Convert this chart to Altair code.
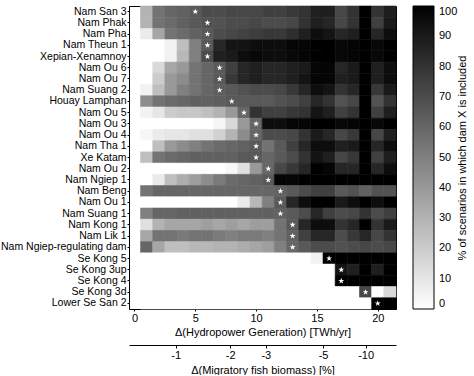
import math
import altair as alt
import pandas as pd

dams = ["Nam San 3", "Nam Phak", "Nam Pha", "Nam Theun 1", "Xepian-Xenamnoy",
        "Nam Ou 6", "Nam Ou 7", "Nam Suang 2", "Houay Lamphan", "Nam Ou 5",
        "Nam Ou 3", "Nam Ou 4", "Nam Tha 1", "Xe Katam", "Nam Ou 2",
        "Nam Ngiep 1", "Nam Beng", "Nam Ou 1", "Nam Suang 1", "Nam Kong 1",
        "Nam Lik 1", "Nam Ngiep-regulating dam", "Se Kong 5", "Se Kong 3up",
        "Se Kong 4", "Se Kong 3d", "Lower Se San 2"]

hydro_steps = list(range(1, 22))
star_step = [5, 6, 6, 6, 6, 7, 7, 7, 8, 9, 10, 10, 10, 10, 11, 11, 12, 12, 12,
             13, 13, 13, 16, 17, 17, 19, 20]

# % of scenarios in which dam is included, per hydropower step (1..21)
row00 = [30, 55, 60, 62, 65, 70, 70, 72, 72, 72, 75, 75, 78, 80, 88, 88, 72, 80, 100, 80, 88]
row01 = [30, 55, 58, 62, 65, 68, 68, 70, 70, 72, 70, 70, 72, 80, 88, 85, 72, 80, 100, 75, 90]
row02 = [8, 35, 55, 58, 62, 65, 70, 72, 74, 76, 78, 78, 82, 88, 95, 92, 85, 88, 100, 85, 95]
row03 = [0, 0, 5, 25, 50, 65, 85, 92, 92, 95, 95, 95, 98, 98, 100, 100, 97, 98, 100, 97, 100]
row04 = [0, 0, 5, 28, 50, 70, 88, 90, 95, 97, 95, 95, 97, 98, 100, 100, 97, 98, 100, 97, 100]
row05 = [0, 15, 35, 40, 55, 60, 65, 75, 85, 88, 85, 85, 88, 90, 98, 98, 85, 90, 100, 88, 95]
row06 = [0, 20, 40, 45, 55, 60, 65, 78, 85, 88, 85, 85, 88, 92, 98, 98, 88, 90, 100, 88, 95]
row07 = [5, 25, 40, 50, 55, 60, 63, 65, 68, 70, 70, 72, 78, 85, 95, 92, 80, 85, 100, 78, 90]
row08 = [45, 55, 58, 60, 62, 62, 63, 65, 65, 65, 65, 68, 70, 75, 85, 80, 68, 72, 100, 68, 80]
row09 = [5, 10, 20, 22, 22, 25, 30, 40, 60, 80, 75, 75, 78, 80, 92, 88, 75, 80, 100, 75, 88]
row10 = [0, 0, 0, 0, 0, 0, 3, 15, 40, 60, 95, 95, 98, 98, 100, 100, 97, 98, 100, 97, 100]
row11 = [3, 8, 10, 10, 12, 12, 18, 30, 45, 60, 70, 70, 72, 80, 90, 85, 72, 78, 100, 72, 88]
row12 = [0, 25, 40, 45, 50, 55, 58, 60, 62, 65, 55, 65, 75, 85, 95, 95, 88, 90, 100, 85, 95]
row13 = [25, 55, 58, 60, 62, 62, 62, 62, 65, 65, 60, 65, 70, 80, 92, 88, 72, 78, 100, 75, 88]
row14 = [0, 0, 0, 0, 0, 0, 0, 3, 12, 40, 60, 72, 78, 85, 100, 98, 85, 85, 100, 85, 95]
row15 = [0, 8, 25, 32, 38, 45, 52, 58, 60, 62, 65, 98, 98, 100, 100, 100, 100, 100, 100, 100, 100]
row16 = [55, 60, 60, 60, 60, 60, 60, 60, 60, 60, 60, 62, 65, 70, 75, 75, 65, 68, 62, 68, 68]
row17 = [0, 0, 0, 0, 0, 0, 0, 0, 8, 28, 50, 65, 85, 95, 100, 100, 90, 95, 100, 95, 100]
row18 = [50, 60, 60, 62, 62, 62, 62, 62, 62, 62, 62, 62, 65, 70, 85, 75, 70, 72, 80, 70, 75]
row19 = [12, 30, 35, 35, 35, 38, 35, 38, 35, 38, 38, 55, 65, 85, 95, 95, 80, 85, 100, 80, 90]
row20 = [35, 55, 55, 52, 55, 55, 52, 50, 52, 52, 50, 55, 62, 75, 85, 85, 70, 78, 85, 72, 80]
row21 = [60, 35, 25, 25, 28, 28, 30, 30, 32, 35, 38, 50, 60, 65, 70, 70, 68, 70, 72, 70, 72]
row22 = [0, 0, 0, 0, 0, 0, 0, 0, 0, 0, 0, 0, 0, 0, 5, 100, 100, 100, 100, 100, 100]
row23 = [0, 0, 0, 0, 0, 0, 0, 0, 0, 0, 0, 0, 0, 0, 0, 0, 92, 88, 100, 88, 100]
row24 = [0, 0, 0, 0, 0, 0, 0, 0, 0, 0, 0, 0, 0, 0, 0, 0, 100, 100, 100, 100, 100]
row25 = [0, 0, 0, 0, 0, 0, 0, 0, 0, 0, 0, 0, 0, 0, 0, 0, 0, 0, 72, 0, 15]
row26 = [0, 0, 0, 0, 0, 0, 0, 0, 0, 0, 0, 0, 0, 0, 0, 0, 0, 0, 0, 100, 100]

rows = [row00, row01, row02, row03, row04, row05, row06, row07, row08, row09,
        row10, row11, row12, row13, row14, row15, row16, row17, row18, row19,
        row20, row21, row22, row23, row24, row25, row26]

hydro_ticks = [0, 5, 10, 15, 20]
fish_pos = [3.39, 7.87, 10.8, 15.5, 19.0]
fish_labels = ["-1", "-2", "-3", "-5", "-10"]
cb_ticks = list(range(0, 101, 10))

records = []
for dam, vals in zip(dams, rows):
    for step, v in zip(hydro_steps, vals):
        records.append({"dam": dam, "x0": step - 0.5, "x1": step + 0.5,
                        "pct": v, "edge": v})
cells = pd.DataFrame(records)
stars = pd.DataFrame({"dam": dams, "step": star_step})

# label expression for the fish-biomass axis
expr = "''"
for p, lab in reversed(list(zip(fish_pos, fish_labels))):
    expr = f"abs(datum.value - {p}) < 0.01 ? '{lab}' : " + expr

# five-point star symbol path (unit box)
pts = []
for k in range(10):
    r = 1.0 if k % 2 == 0 else 0.382
    a = math.radians(-90 + 36 * k)
    pts.append(f"{r * math.cos(a):.3f},{r * math.sin(a):.3f}")
STAR = "M" + " L".join(pts) + " Z"

FONT = "Liberation Sans"
W, H = 267, 303

cscale = alt.Scale(domain=[0, 100], range=["#ffffff", "#000000"], interpolate="rgb")
# edge colour scale kept on a marginally different domain so its (hidden) legend
# is not merged into the colour bar
sscale = alt.Scale(domain=[0, 100.01], range=["#ffffff", "#000000"], interpolate="rgb")
xscale = alt.Scale(domain=[-0.45, 21.5], nice=False, zero=False)
yscale = alt.Scale(type="band", domain=dams, paddingInner=0, paddingOuter=0)

yaxis = alt.Axis(title=None, orient="left", tickSize=2, labelPadding=1, labelLimit=300,
                 labelFontSize=10.5)
title_axis = alt.Axis(orient="right", labels=False, ticks=False, domain=False,
                      title="% of scenarios in which dam X is included",
                      titleAngle=270, titlePadding=0, offset=71)
hydro_axis = alt.Axis(values=hydro_ticks, title="Δ(Hydropower Generation) [TWh/yr]",
                      tickSize=2, labelPadding=1, titlePadding=3, format="d")
fish_axis = alt.Axis(orient="bottom", offset=36, values=fish_pos, labelExpr=expr,
                     title="Δ(Migratory fish biomass) [%]", tickSize=3,
                     labelPadding=1, titlePadding=4)

legend = alt.Legend(type="gradient", orient="none", legendX=W + 17, legendY=0,
                    title=None, direction="vertical", gradientLength=H,
                    gradientThickness=21, values=cb_ticks, labelFontSize=11,
                    labelFont=FONT, labelColor="black", labelOffset=5,
                    gradientStrokeColor="black", gradientStrokeWidth=1, padding=0)

heat = alt.Chart(cells).mark_rect(strokeWidth=0.6).encode(
    x=alt.X("x0:Q", scale=xscale, axis=hydro_axis),
    x2="x1:Q",
    y=alt.Y("dam:N", scale=yscale, sort=dams, axis=yaxis),
    color=alt.Color("pct:Q", scale=cscale, legend=legend),
    stroke=alt.Stroke("edge:Q", scale=sscale, legend=None),
)

starm = alt.Chart(stars).mark_point(shape=STAR, filled=True, color="white",
                                     size=40, opacity=1, strokeWidth=0).encode(
    x=alt.X("step:Q", scale=xscale, axis=fish_axis),
    y=alt.Y("dam:N", scale=yscale, sort=dams, axis=title_axis),
)

chart = alt.layer(heat, starm).resolve_axis(x="independent", y="independent").properties(
    width=W, height=H,
    padding={"left": 0, "top": 5, "right": 0, "bottom": 0},
    background="white",
).configure_axis(
    labelFont=FONT, titleFont=FONT, labelFontSize=11, titleFontSize=11,
    titleFontWeight="normal", labelColor="black", titleColor="black",
    domainColor="black", tickColor="black", grid=False,
).configure_view(stroke="black", strokeWidth=1)

chart.save("out.html", embed_options={"renderer": "svg", "actions": False})
